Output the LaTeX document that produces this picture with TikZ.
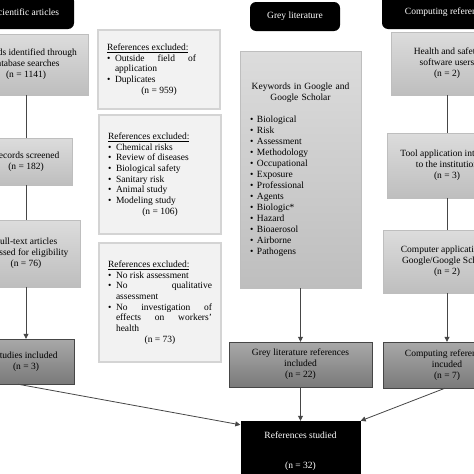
\documentclass[tikz,border=0pt]{standalone}
\usepackage{fontspec}
\setmainfont{Liberation Serif}
\usetikzlibrary{arrows.meta,positioning}
\definecolor{rvlight}{RGB}{220,220,220}
\definecolor{rvlightdk}{RGB}{190,190,190}
\definecolor{rvmid}{RGB}{168,168,168}
\definecolor{rvmiddk}{RGB}{122,122,122}
\definecolor{rvexcl}{RGB}{242,242,242}
\definecolor{rvexcledge}{RGB}{212,212,212}
\definecolor{rvline}{RGB}{70,70,70}
\newcommand{\boxfont}{\fontsize{9.5}{11}\selectfont}
\newcommand{\exfont}{\fontsize{9.5}{10.7}\selectfont\parindent=0pt\tolerance=10000\hyphenpenalty=10000\exhyphenpenalty=10000}
\newcommand{\exitem}[1]{\par\hangindent=8pt\hangafter=1\makebox[8pt][l]{\textbullet}#1}
\newcommand{\kwitem}[1]{\par\makebox[7pt][l]{\textbullet}#1}

\begin{document}
\begin{tikzpicture}[x=1pt, y=-1pt,
  hdr/.style={fill=black, rounded corners=6pt, text=white, font=\boxfont,
    align=center},
  recbox/.style={draw=rvlightdk, top color=rvlight, bottom color=rvlightdk,
    font=\boxfont, align=center},
  incbox/.style={draw=rvline, top color=rvmid, bottom color=rvmiddk,
    font=\boxfont, align=center},
  exbox/.style={draw=rvexcledge, line width=1.2pt, fill=rvexcl, font=\exfont,
    text width=104pt, inner xsep=9pt, align=justify,
    minimum width=122pt, minimum height=119pt},
  ln/.style={rvline, line width=0.8pt},
  arr/.style={-{Triangle[length=5pt,width=5pt]}, rvline, line width=0.8pt}]
\useasboundingbox (0,0) rectangle (474,474);
\clip (0,0) rectangle (474,474);
% Headers
\node[hdr, minimum width=96pt, minimum height=34pt] (hsci) at (26,12)
  {Scientific articles};
\node[hdr, minimum width=90pt, minimum height=29pt] (hgrey) at (295,16.5)
  {Grey literature};
\node[hdr, minimum width=130pt, minimum height=34pt] (hcomp) at (447,12)
  {Computing references};
% Scientific articles
\node[recbox, minimum width=124pt, minimum height=61pt] (ident) at (26,64.5)
  {Records identified through\\database searches\\(n = 1141)};
\node[recbox, minimum width=92pt, minimum height=47pt] (screen) at (26,161.5)
  {Records screened\\(n = 182)};
\node[recbox, minimum width=108pt, minimum height=67pt] (full) at (26,253.5)
  {Full-text articles\\assessed for eligibility\\(n = 76)};
\node[incbox, minimum width=96pt, minimum height=45pt] (stud) at (26,361.5)
  {Studies included\\(n = 3)};
% Exclusions
\node[exbox, minimum height=79pt] (ex1) at (159,69.5)
  {\rightskip=15pt\relax\underline{References excluded:}
   \exitem{Outside field of application}
   \exitem{Duplicates}
   \par{\centering (n = 959)\par}};
\node[exbox] (ex2) at (160,174.5)
  {\underline{References excluded:}
   \exitem{Chemical risks}
   \exitem{Review of diseases}
   \exitem{Biological safety}
   \exitem{Sanitary risk}
   \exitem{Animal study}
   \exitem{Modeling study}
   \par{\centering (n = 106)\par}};
\node[exbox] (ex3) at (160,302.5)
  {\underline{References excluded:}
   \exitem{No risk assessment}
   \exitem{No qualitative assessment}
   \exitem{No investigation of\linebreak effects on workers'\linebreak health}
   \par{\centering (n = 73)\par}};
% Grey literature
\node[recbox, text width=101pt, align=left, minimum width=121pt,
      minimum height=237pt] (kw) at (300.5,169.5)
  {{\centering Keywords in Google and\\Google Scholar\par}\vspace{11pt}
   \kwitem{Biological}\kwitem{Risk}\kwitem{Assessment}\kwitem{Methodology}
   \kwitem{Occupational}\kwitem{Exposure}\kwitem{Professional}
   \kwitem{Agents}\kwitem{Biologic*}\kwitem{Hazard}\kwitem{Bioaerosol}
   \kwitem{Airborne}\kwitem{Pathogens}};
\node[incbox, minimum width=143pt, minimum height=45pt] (greyinc) at (300.5,364.5)
  {Grey literature references\\included\\(n = 22)};
% Computing references
\node[recbox, minimum width=112pt, minimum height=63pt] (health) at (447,63.5)
  {Health and safety\\software users\\(n = 2)};
\node[recbox, minimum width=120pt, minimum height=65pt] (tool) at (447,165.5)
  {Tool application internal\\to the institution\\(n = 3)};
\node[recbox, minimum width=128pt, minimum height=63pt] (capp) at (447,261.5)
  {Computer application in\\Google/Google Scholar\\(n = 2)};
\node[incbox, minimum width=128pt, minimum height=46pt] (compinc) at (447,365)
  {Computing references\\incuded\\(n = 7)};
% Final node
\node[fill=black, text=white, font=\boxfont, align=center,
      minimum width=120pt, minimum height=60pt] (refs) at (300.5,451)
  {References studied\\[19pt](n = 32)};
% Connectors
\draw[ln] (ident) -- (screen);
\draw[ln] (screen) -- (full);
\draw[arr] (full) -- (stud);
\draw[arr] (kw) -- (greyinc);
\draw[arr] (greyinc) -- (refs);
\draw[ln] (health) -- (tool);
\draw[ln] (tool) -- (capp);
\draw[arr] (capp) -- (compinc);
\draw[arr] ([xshift=-8pt]stud.south) -- ([yshift=-4pt]refs.north west);
\draw[arr] ([xshift=-2pt]compinc.south) -- (refs.north east);
\end{tikzpicture}
\end{document}
